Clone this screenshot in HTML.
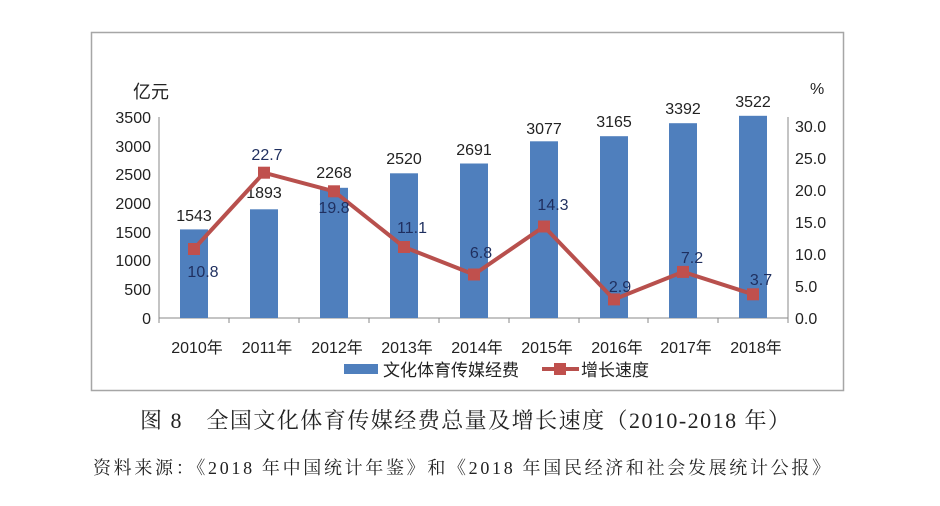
<!DOCTYPE html>
<html><head><meta charset="utf-8"><style>
body{margin:0;background:#fff;width:940px;height:501px;overflow:hidden}
svg text{font-family:"Liberation Sans","Noto Sans CJK SC",sans-serif}
</style></head><body>
<svg width="940" height="501" viewBox="0 0 940 501">
<rect x="91.5" y="32.5" width="752" height="358" fill="#fff" stroke="#a6a6a6" stroke-width="1.5"/>
<text x="133" y="98" font-size="18" fill="#222">亿元</text>
<text x="810" y="94" font-size="16" fill="#222">%</text>
<g font-size="16" fill="#222" text-anchor="end">
<text x="151" y="123">3500</text><text x="151" y="152">3000</text><text x="151" y="180">2500</text>
<text x="151" y="209">2000</text><text x="151" y="238">1500</text><text x="151" y="266">1000</text>
<text x="151" y="295">500</text><text x="151" y="324">0</text>
</g>
<g font-size="16" fill="#222">
<text x="795" y="132">30.0</text><text x="795" y="164">25.0</text><text x="795" y="196">20.0</text>
<text x="795" y="228">15.0</text><text x="795" y="260">10.0</text><text x="795" y="292">5.0</text>
<text x="795" y="324">0.0</text>
</g>
<g stroke="#888" stroke-width="1">
<line x1="159" y1="117" x2="159" y2="318"/><line x1="788" y1="117" x2="788" y2="318"/>
<line x1="159" y1="318" x2="788" y2="318"/>
<line x1="229" y1="318" x2="229" y2="323"/><line x1="299" y1="318" x2="299" y2="323"/><line x1="369" y1="318" x2="369" y2="323"/><line x1="439" y1="318" x2="439" y2="323"/><line x1="509" y1="318" x2="509" y2="323"/><line x1="579" y1="318" x2="579" y2="323"/><line x1="648" y1="318" x2="648" y2="323"/><line x1="718" y1="318" x2="718" y2="323"/><line x1="159" y1="318" x2="159" y2="323"/><line x1="788" y1="318" x2="788" y2="323"/>
</g>
<g fill="#4f7fbd">
<rect x="180" y="229.4" width="28" height="88.6"/>
<rect x="250" y="209.3" width="28" height="108.7"/>
<rect x="320" y="187.8" width="28" height="130.2"/>
<rect x="390" y="173.3" width="28" height="144.7"/>
<rect x="460" y="163.5" width="28" height="154.5"/>
<rect x="530" y="141.3" width="28" height="176.7"/>
<rect x="600" y="136.2" width="28" height="181.8"/>
<rect x="669" y="123.2" width="28" height="194.8"/>
<rect x="739" y="115.8" width="28" height="202.2"/>
</g>
<g font-size="16" fill="#222" text-anchor="middle">
<text x="194" y="221">1543</text><text x="264" y="198">1893</text><text x="334" y="178">2268</text>
<text x="404" y="164">2520</text><text x="474" y="155">2691</text><text x="544" y="134">3077</text>
<text x="614" y="127">3165</text><text x="683" y="114">3392</text><text x="753" y="107">3522</text>
</g>
<polyline fill="none" stroke="#b8504d" stroke-width="4" points="194,248.9 264,172.7 334,191.3 404,247 474,274.5 544,226.5 614,299.4 683,271.9 753,294.3"/>
<g fill="#c0504d">
<rect x="188" y="243" width="12" height="12"/><rect x="258" y="166.7" width="12" height="12"/><rect x="328" y="185.3" width="12" height="12"/><rect x="398" y="241" width="12" height="12"/><rect x="468" y="268.5" width="12" height="12"/><rect x="538" y="220.5" width="12" height="12"/><rect x="608" y="293.4" width="12" height="12"/><rect x="677" y="265.9" width="12" height="12"/><rect x="747" y="288.3" width="12" height="12"/>
</g>
<g font-size="16" fill="#1f2f5f" text-anchor="middle">
<text x="203" y="277">10.8</text><text x="267" y="160">22.7</text><text x="334" y="213">19.8</text>
<text x="412" y="233">11.1</text><text x="481" y="258">6.8</text><text x="553" y="210">14.3</text>
<text x="620" y="292">2.9</text><text x="692" y="263">7.2</text><text x="761" y="285">3.7</text>
</g>
<g font-size="16" fill="#222" text-anchor="middle">
<text x="197" y="353">2010年</text><text x="267" y="353">2011年</text><text x="337" y="353">2012年</text>
<text x="407" y="353">2013年</text><text x="477" y="353">2014年</text><text x="547" y="353">2015年</text>
<text x="617" y="353">2016年</text><text x="686" y="353">2017年</text><text x="756" y="353">2018年</text>
</g>
<rect x="344" y="364" width="34" height="10" fill="#4f7fbd"/>
<text x="383" y="376" font-size="17" fill="#222">文化体育传媒经费</text>
<line x1="542" y1="369" x2="579" y2="369" stroke="#b8504d" stroke-width="4"/>
<rect x="554" y="363" width="12" height="12" fill="#c0504d"/>
<text x="581" y="376" font-size="17" fill="#222">增长速度</text>
<text x="140" y="428" font-size="22" fill="#222" textLength="650" lengthAdjust="spacing" style="font-family:'Liberation Serif','Noto Serif CJK SC',serif">图 8　全国文化体育传媒经费总量及增长速度（2010-2018 年）</text>
<text x="93" y="474" font-size="18" fill="#222" textLength="737" lengthAdjust="spacing" style="font-family:'Liberation Serif','Noto Serif CJK SC',serif">资料来源：《2018 年中国统计年鉴》和《2018 年国民经济和社会发展统计公报》</text>
</svg>
</body></html>
